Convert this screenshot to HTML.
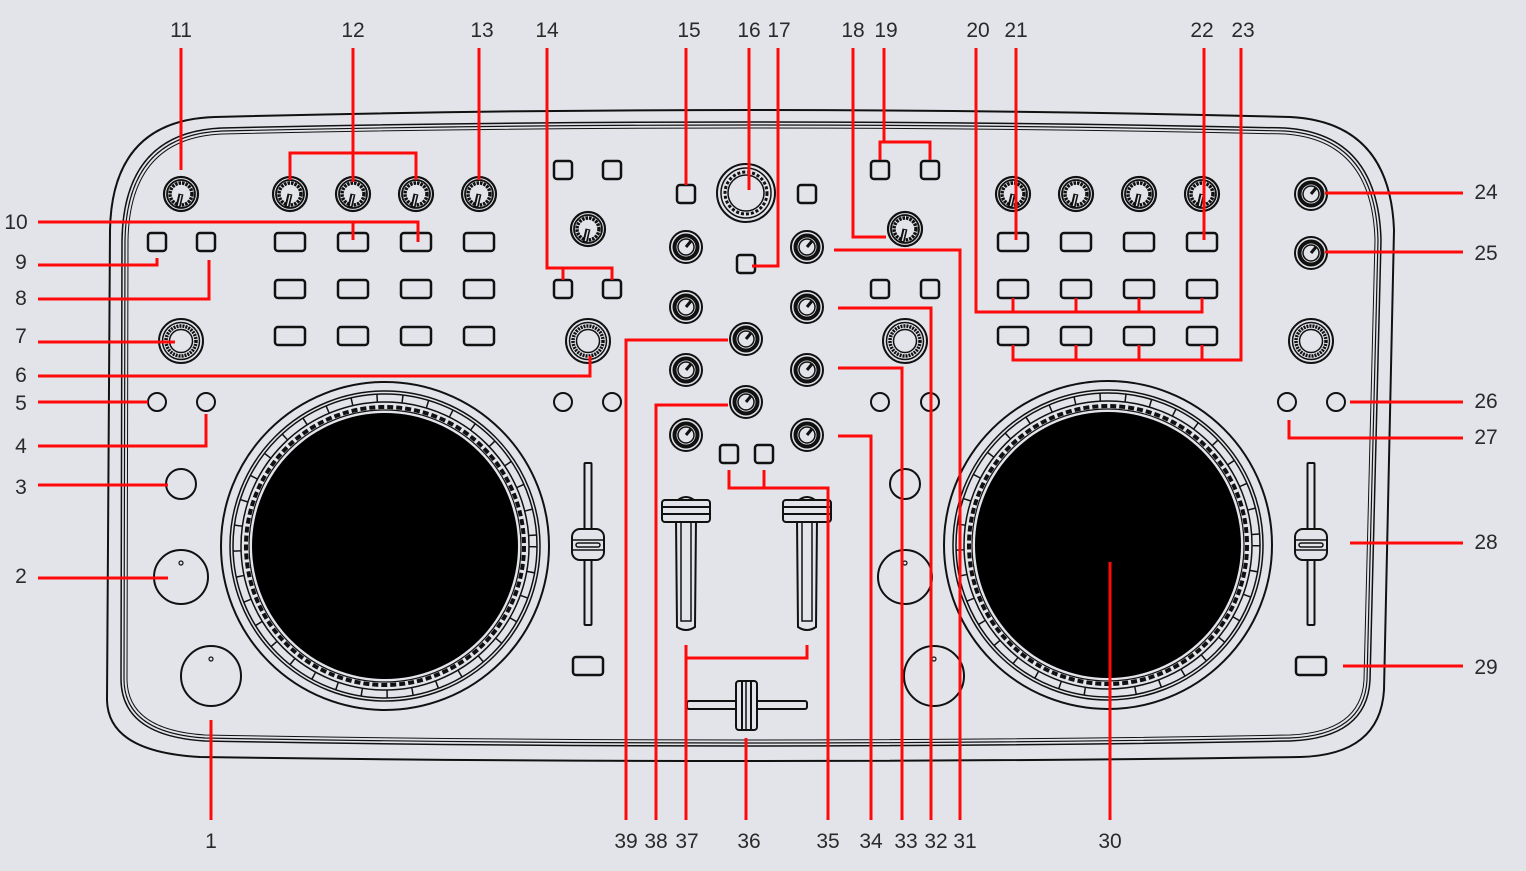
<!DOCTYPE html>
<html><head><meta charset="utf-8"><style>
html,body{margin:0;padding:0;background:#e3e4ea;}
svg{display:block}
text{font-family:"Liberation Sans",sans-serif;font-size:21px;fill:#2a2a2a}
</style></head><body>
<svg width="1526" height="871" viewBox="0 0 1526 871" xmlns="http://www.w3.org/2000/svg">
<defs>
<g id="dk"><circle r="17" fill="none" stroke="#111" stroke-width="2.2"/><circle r="14" fill="none" stroke="#111" stroke-width="1.8"/><circle r="11" fill="none" stroke="#111" stroke-width="3.5" stroke-dasharray="2.5 1"/><line x1="0" y1="0" x2="-3" y2="13" stroke="#111" stroke-width="5"/><line x1="0" y1="1" x2="-2.6" y2="12" stroke="#e3e4ea" stroke-width="1.4"/></g>
<g id="mk"><circle r="16" fill="none" stroke="#111" stroke-width="2"/><circle r="11.5" fill="none" stroke="#111" stroke-width="4"/><circle r="8" fill="none" stroke="#111" stroke-width="1.5"/><line x1="0" y1="0" x2="5" y2="-6" stroke="#111" stroke-width="3"/></g>
<g id="bk"><circle r="22" fill="none" stroke="#111" stroke-width="2"/><circle r="18.5" fill="none" stroke="#111" stroke-width="1.5"/><circle r="15" fill="none" stroke="#111" stroke-width="3.5" stroke-dasharray="2 1"/><circle r="11.5" fill="none" stroke="#111" stroke-width="1.5"/></g>
<rect id="pad" x="-15" y="-9" width="30" height="18" rx="3" fill="none" stroke="#111" stroke-width="2.5"/>
<rect id="sq" x="-9" y="-9" width="18" height="18" rx="3" fill="none" stroke="#111" stroke-width="2.5"/>
<circle id="ci" r="9" fill="none" stroke="#111" stroke-width="2"/>
<g id="jog"><circle r="164" fill="none" stroke="#111" stroke-width="2"/><circle r="155" fill="none" stroke="#111" stroke-width="1.5"/><circle r="152" fill="none" stroke="#111" stroke-width="1.5"/><circle r="148" fill="none" stroke="#111" stroke-width="8" stroke-dasharray="1.5 24"/><circle r="144" fill="none" stroke="#111" stroke-width="1.5"/><circle r="139" fill="none" stroke="#111" stroke-width="4" stroke-dasharray="6 3"/><circle r="136" fill="none" stroke="#111" stroke-width="1.2"/><circle r="133" fill="#000"/></g>
<g id="pf"><rect x="-3.5" y="-82" width="7" height="162" rx="1" fill="#e3e4ea" stroke="#111" stroke-width="2"/><rect x="-16" y="-16" width="32" height="31" rx="8" fill="#e3e4ea" stroke="#111" stroke-width="2"/><line x1="-16" y1="-5" x2="16" y2="-5" stroke="#111" stroke-width="1.5"/><line x1="-16" y1="5" x2="16" y2="5" stroke="#111" stroke-width="1.5"/><rect x="-12" y="-2" width="24" height="4" rx="2" fill="none" stroke="#111" stroke-width="1.5"/></g>
<g id="cf"><path d="M-10,10 L-9,118 Q0,124 9,118 L10,10 Z" fill="#e3e4ea" stroke="#111" stroke-width="2"/><path d="M-5,10 L-5,112 L5,112 L5,10" fill="none" stroke="#111" stroke-width="1.5"/><path d="M-8,-9 Q0,-15 8,-9" fill="none" stroke="#111" stroke-width="2"/><rect x="-24" y="-9" width="48" height="22" rx="3" fill="#e3e4ea" stroke="#111" stroke-width="2"/><line x1="-24" y1="-2" x2="24" y2="-2" stroke="#111" stroke-width="2"/><line x1="-24" y1="5" x2="24" y2="5" stroke="#111" stroke-width="2"/></g>
</defs>
<path d="M107,700 L110,230 Q112,120 215,117 Q750,103 1290,117 Q1390,122 1394,230 L1384,690 Q1380,755 1300,757 Q750,765 200,757 Q108,752 107,700 Z" fill="none" stroke="#111" stroke-width="2"/>
<path d="M121,680 L122,240 Q124,132 222,128 Q750,116 1285,128 Q1378,134 1381,240 L1370,680 Q1367,738 1290,741 Q750,751 205,741 Q122,736 121,680 Z" fill="none" stroke="#111" stroke-width="1.5"/>
<path d="M124,680 L125,240 Q127,135 222,131 Q750,119 1285,131 Q1375,137 1378,240 L1367,680 Q1364,735 1290,738 Q750,748 205,738 Q125,733 124,680 Z" fill="none" stroke="#111" stroke-width="1.2"/>
<path d="M127,680 L128,240 Q130,138 222,134 Q750,122 1285,134 Q1372,140 1375,240 L1364,680 Q1361,732 1290,735 Q750,745 205,735 Q128,730 127,680 Z" fill="none" stroke="#111" stroke-width="1"/>
<use href="#jog" x="385" y="546"/><use href="#jog" x="1108" y="545"/>
<use href="#dk" x="181" y="194"/><use href="#dk" x="290" y="194"/><use href="#dk" x="353" y="194"/><use href="#dk" x="416" y="194"/><use href="#dk" x="479" y="194"/>
<use href="#sq" x="157" y="242"/><use href="#sq" x="206" y="242"/>
<use href="#pad" x="290" y="242"/><use href="#pad" x="353" y="242"/><use href="#pad" x="416" y="242"/><use href="#pad" x="479" y="242"/>
<use href="#pad" x="290" y="289"/><use href="#pad" x="353" y="289"/><use href="#pad" x="416" y="289"/><use href="#pad" x="479" y="289"/>
<use href="#pad" x="290" y="336"/><use href="#pad" x="353" y="336"/><use href="#pad" x="416" y="336"/><use href="#pad" x="479" y="336"/>
<use href="#bk" x="181" y="341"/><use href="#bk" x="588" y="341"/>
<use href="#ci" x="157" y="402"/><use href="#ci" x="206" y="402"/><use href="#ci" x="563" y="402"/><use href="#ci" x="612" y="402"/>
<circle cx="181" cy="484" r="15" fill="none" stroke="#111" stroke-width="2"/>
<circle cx="181" cy="577" r="27" fill="none" stroke="#111" stroke-width="2"/><circle cx="181" cy="563" r="2" fill="none" stroke="#111" stroke-width="1.2"/>
<circle cx="211" cy="676" r="30" fill="none" stroke="#111" stroke-width="2"/><circle cx="211" cy="659" r="2" fill="none" stroke="#111" stroke-width="1.2"/>
<use href="#sq" x="563" y="170"/><use href="#sq" x="612" y="170"/><use href="#sq" x="563" y="289"/><use href="#sq" x="612" y="289"/>
<use href="#dk" x="588" y="229"/>
<use href="#pf" x="588" y="545"/>
<use href="#pad" x="588" y="666"/>
<use href="#sq" x="686" y="194"/><use href="#sq" x="807" y="194"/><use href="#sq" x="746" y="264"/>
<circle cx="746" cy="193" r="29" fill="none" stroke="#111" stroke-width="2"/><circle cx="746" cy="193" r="25" fill="none" stroke="#111" stroke-width="1.5"/><circle cx="746" cy="193" r="21" fill="none" stroke="#111" stroke-width="3" stroke-dasharray="3 2"/><circle cx="746" cy="193" r="18" fill="none" stroke="#111" stroke-width="1.5"/>
<use href="#mk" x="686" y="247"/><use href="#mk" x="686" y="307"/><use href="#mk" x="686" y="370"/><use href="#mk" x="686" y="435"/>
<use href="#mk" x="807" y="247"/><use href="#mk" x="807" y="307"/><use href="#mk" x="807" y="370"/><use href="#mk" x="807" y="435"/>
<use href="#mk" x="746" y="339"/><use href="#mk" x="746" y="402"/>
<use href="#sq" x="729" y="454"/><use href="#sq" x="764" y="454"/>
<use href="#cf" x="686" y="509"/><use href="#cf" x="807" y="509"/>
<rect x="687" y="701" width="120" height="8" rx="2" fill="none" stroke="#111" stroke-width="2"/>
<rect x="736" y="681" width="21" height="49" rx="3" fill="#e3e4ea" stroke="#111" stroke-width="2"/><line x1="742" y1="681" x2="742" y2="730" stroke="#111" stroke-width="2"/><line x1="746" y1="681" x2="746" y2="730" stroke="#111" stroke-width="1.5"/><line x1="751" y1="681" x2="751" y2="730" stroke="#111" stroke-width="2"/>
<use href="#sq" x="880" y="170"/><use href="#sq" x="930" y="170"/><use href="#sq" x="880" y="289"/><use href="#sq" x="930" y="289"/>
<use href="#dk" x="905" y="229"/><use href="#bk" x="905" y="341"/>
<use href="#ci" x="880" y="402"/><use href="#ci" x="930" y="402"/>
<circle cx="905" cy="484" r="15" fill="none" stroke="#111" stroke-width="2"/>
<circle cx="905" cy="577" r="27" fill="none" stroke="#111" stroke-width="2"/><circle cx="905" cy="563" r="2" fill="none" stroke="#111" stroke-width="1.2"/>
<circle cx="934" cy="676" r="30" fill="none" stroke="#111" stroke-width="2"/><circle cx="934" cy="659" r="2" fill="none" stroke="#111" stroke-width="1.2"/>
<use href="#dk" x="1013" y="194"/><use href="#dk" x="1076" y="194"/><use href="#dk" x="1139" y="194"/><use href="#dk" x="1202" y="194"/>
<use href="#pad" x="1013" y="242"/><use href="#pad" x="1076" y="242"/><use href="#pad" x="1139" y="242"/><use href="#pad" x="1202" y="242"/>
<use href="#pad" x="1013" y="289"/><use href="#pad" x="1076" y="289"/><use href="#pad" x="1139" y="289"/><use href="#pad" x="1202" y="289"/>
<use href="#pad" x="1013" y="336"/><use href="#pad" x="1076" y="336"/><use href="#pad" x="1139" y="336"/><use href="#pad" x="1202" y="336"/>
<use href="#mk" x="1311" y="194"/><use href="#mk" x="1311" y="253"/><use href="#bk" x="1311" y="341"/>
<use href="#ci" x="1287" y="402"/><use href="#ci" x="1336" y="402"/>
<use href="#pf" x="1311" y="545"/><use href="#pad" x="1311" y="666"/>
<g fill="none" stroke="#ff0a0a" stroke-width="3">
<path d="M181,48V170"/>
<path d="M353,48V182M290,180V153H416V180"/>
<path d="M479,48V180"/>
<path d="M547,48V268H612V280M563,268V280"/>
<path d="M686,48V185"/>
<path d="M749,48V190"/>
<path d="M778,48V266H752"/>
<path d="M853,48V237H886"/>
<path d="M884,48V142M880,160V142H930V160"/>
<path d="M976,48V312H1202V298M1013,298V312M1076,298V312M1139,298V312"/>
<path d="M1016,48V240"/>
<path d="M1204,48V240"/>
<path d="M1241,48V360H1013V345M1076,345V360M1139,345V360M1202,345V360"/>
<path d="M1325,193H1463M1325,252H1463M1350,402H1463M1289,420V438H1463M1350,543H1463M1343,666H1463"/>
<path d="M1110,562V820"/>
<path d="M834,250H960V820"/>
<path d="M838,308H931V820"/>
<path d="M838,368H902V820"/>
<path d="M838,436H871V820"/>
<path d="M729,470V488H828V820M764,470V488"/>
<path d="M746,738V820"/>
<path d="M686,645V658H807V645M686,658V820"/>
<path d="M728,405H656V820"/>
<path d="M728,340H626V820"/>
<path d="M211,720V820"/>
<path d="M38,578H168M38,485H168M38,446H206V414M38,402H148M38,376H590V356M38,342H175M38,299H209V260M38,265H157V258M38,222H418V242M353,222V240"/>
</g>
<g text-anchor="middle">
<text x="181" y="37">11</text><text x="353" y="37">12</text><text x="482" y="37">13</text><text x="547" y="37">14</text><text x="689" y="37">15</text><text x="749" y="37">16</text><text x="779" y="37">17</text><text x="853" y="37">18</text><text x="886" y="37">19</text><text x="978" y="37">20</text><text x="1016" y="37">21</text><text x="1202" y="37">22</text><text x="1243" y="37">23</text>
<text x="16" y="229">10</text><text x="21" y="269">9</text><text x="21" y="305">8</text><text x="21" y="343">7</text><text x="21" y="382">6</text><text x="21" y="410">5</text><text x="21" y="453">4</text><text x="21" y="494">3</text><text x="21" y="583">2</text>
<text x="1486" y="199">24</text><text x="1486" y="260">25</text><text x="1486" y="408">26</text><text x="1486" y="444">27</text><text x="1486" y="549">28</text><text x="1486" y="674">29</text>
<text x="211" y="848">1</text><text x="626" y="848">39</text><text x="656" y="848">38</text><text x="687" y="848">37</text><text x="749" y="848">36</text><text x="828" y="848">35</text><text x="871" y="848">34</text><text x="906" y="848">33</text><text x="936" y="848">32</text><text x="965" y="848">31</text><text x="1110" y="848">30</text>
</g>
</svg>
</body></html>
